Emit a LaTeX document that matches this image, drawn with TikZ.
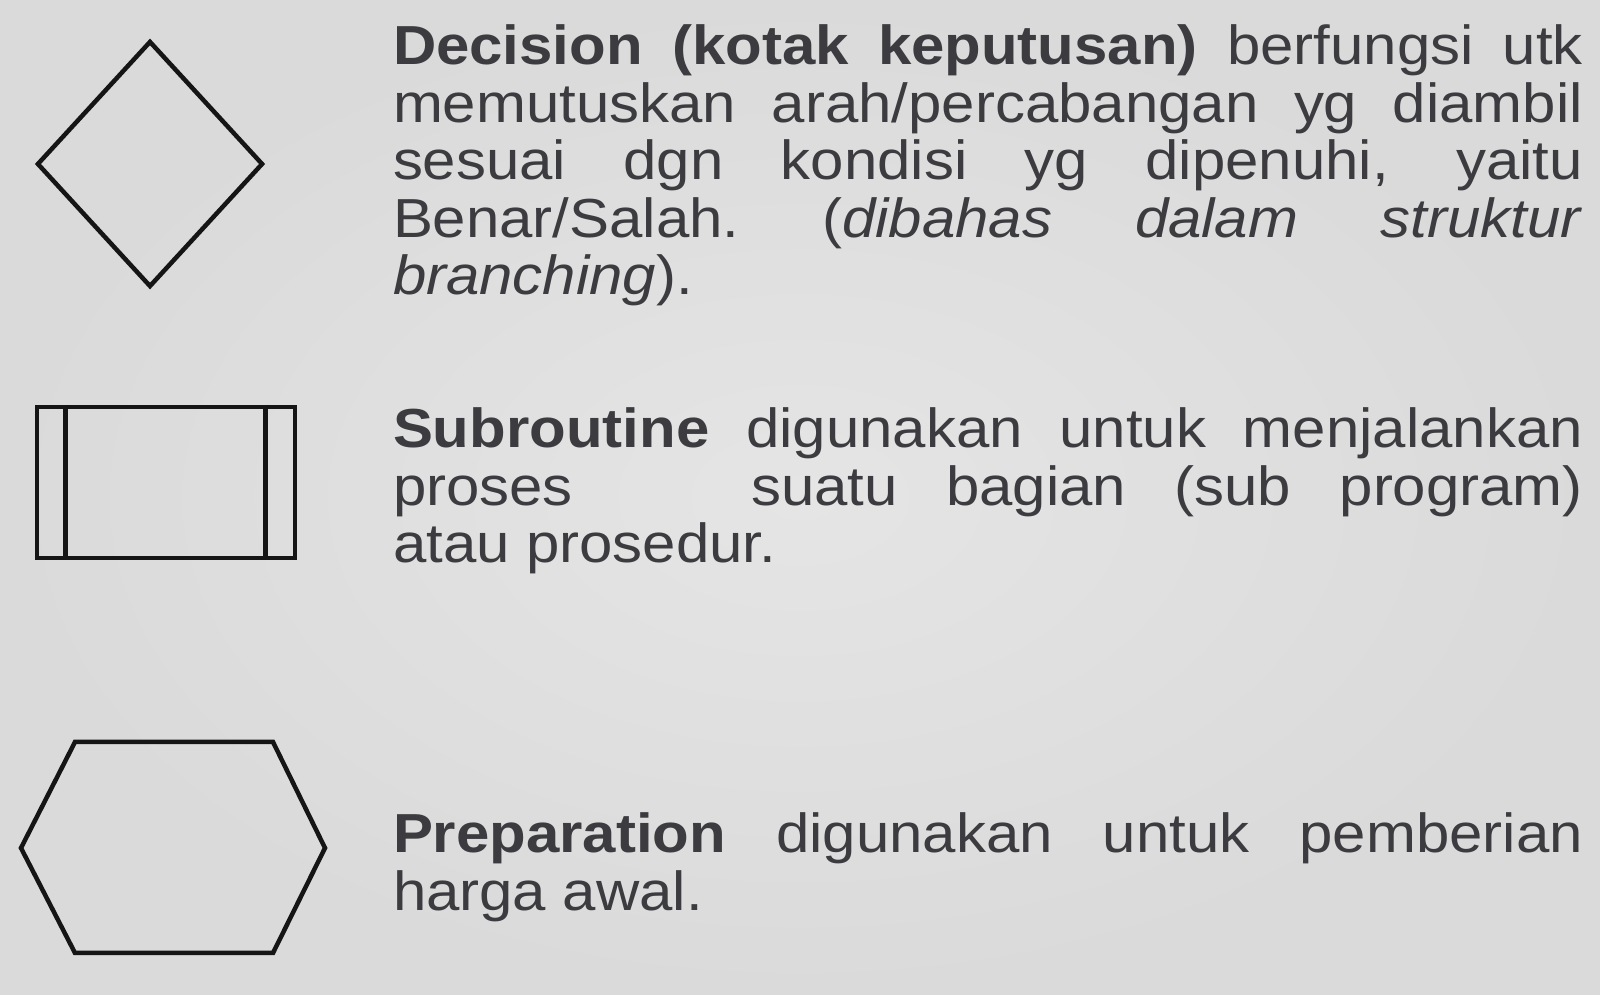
\documentclass[tikz,border=0pt]{standalone}
\usepackage{fontspec}
\setmainfont{Liberation Sans}[FakeStretch=1.09]
\usetikzlibrary{shapes.geometric,calc}
\definecolor{paper}{HTML}{E5E5E5}
\definecolor{paperedge}{HTML}{DADADA}
\definecolor{ink}{HTML}{3C3C40}
\definecolor{stroke}{HTML}{151515}
\newcommand\legendfont{\fontsize{11pt}{11.5pt}\selectfont\tolerance=10000 \hyphenpenalty=10000 }
\newcommand\legendpar[1]{\parbox[t]{238pt}{#1}}
\tikzset{
  symbol/.style={draw=stroke,line width=0.9pt,inner sep=0pt,line join=miter},
  legendtext/.style={anchor=base west,inner sep=0pt,text=ink,font=\legendfont}
}
\begin{document}
\begin{tikzpicture}[x=0.2pt,y=-0.2pt]
    \useasboundingbox (0,0) rectangle (1600,995);
    \shade[inner color=paper,outer color=paperedge] (0,0) rectangle (1600,995);

    \node [symbol,diamond,minimum width=45.2pt,minimum height=49.2pt] (decision) at (150,164) {};
    \node [symbol,rectangle,minimum width=51.6pt,minimum height=30.2pt] (sub) at (166,482.5) {};
    \draw [symbol] ($(sub.north west)+(31,0)$) -- ($(sub.south west)+(31,0)$);
    \draw [symbol] ($(sub.north east)+(-32,0)$) -- ($(sub.south east)+(-32,0)$);
    \coordinate (prep) at (173,848);
    \draw [symbol] ($(prep)+(-98,-106)$) -- ($(prep)+(100,-106)$) -- ($(prep)+(152,0)$)
        -- ($(prep)+(100,105)$) -- ($(prep)+(-98,105)$) -- ($(prep)+(-152,0)$) -- cycle;

    \node [legendtext] (decisiontext) at (392,65)
        {\legendpar{\textbf{Decision (kotak keputusan)} berfungsi utk\linebreak
         memutuskan arah/percabangan yg diambil\linebreak
         sesuai dgn kondisi yg dipenuhi, yaitu\linebreak
         Benar/Salah.\ (\textit{dibahas dalam struktur}\linebreak
         \textit{branching}).}};
    \node [legendtext] (subtext) at (392,448)
        {\legendpar{\textbf{Subroutine} digunakan untuk menjalankan\linebreak
         proses\hspace{26pt} suatu bagian (sub program)\linebreak
         atau prosedur.}};
    \node [legendtext] (preptext) at (392,853)
        {\legendpar{\textbf{Preparation} digunakan untuk pemberian\linebreak
         harga awal.}};
\end{tikzpicture}
\end{document}
